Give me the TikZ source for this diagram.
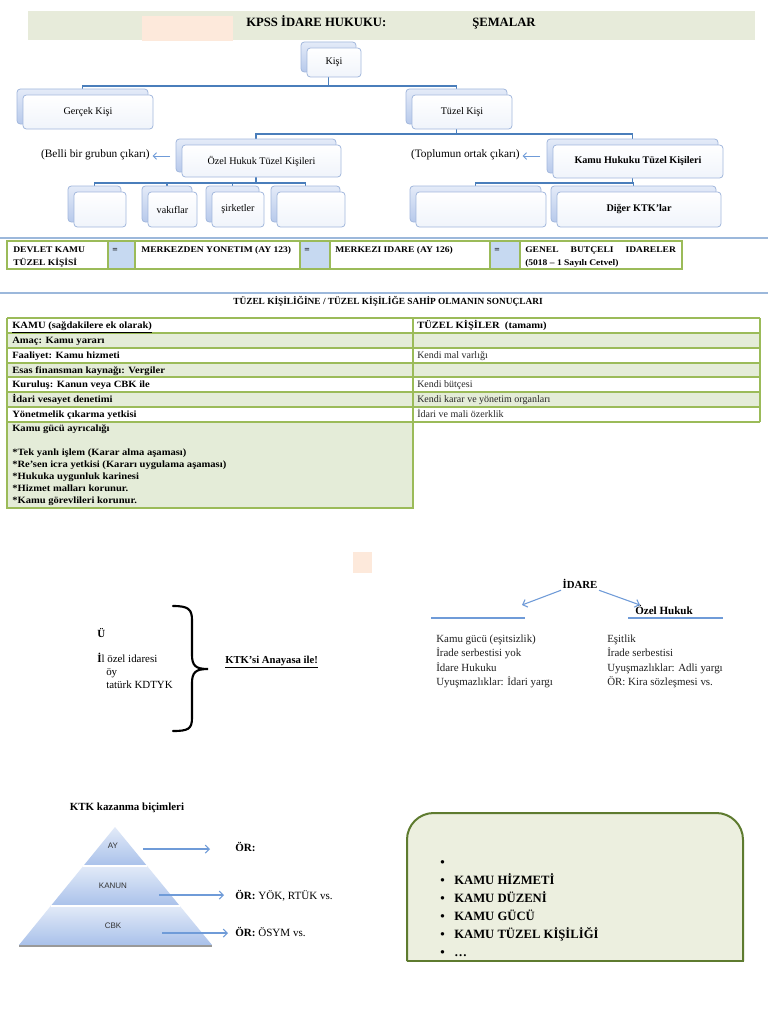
\documentclass[tikz,border=0pt]{standalone}
\usepackage{fontspec}
\setmainfont{Liberation Serif}
\newfontfamily\tabfont[FakeStretch=1.1]{Liberation Serif}
\newfontfamily\pyrfont{Liberation Sans}
\usetikzlibrary{fit,arrows.meta,backgrounds}
\newcommand\myfs[2]{\fontsize{#1}{#2}\selectfont}
\definecolor{hdrgreen}{HTML}{E7EBDA}
\definecolor{peach}{HTML}{FDE9DB}
\definecolor{connblue}{HTML}{4A7EBB}
\definecolor{boxedge}{HTML}{A3B8DD}
\definecolor{backtop}{HTML}{E4EBF8}
\definecolor{backbot}{HTML}{B7C9EB}
\definecolor{frontbot}{HTML}{F0F4FB}
\definecolor{rulebl}{HTML}{9CB8DB}
\definecolor{tline}{HTML}{9BBB59}
\definecolor{tfill}{HTML}{E4ECD8}
\definecolor{eqblue}{HTML}{C6D9F1}
\definecolor{arrbl}{HTML}{6F9BD8}
\definecolor{gboxfill}{HTML}{ECEFDF}
\definecolor{gboxedge}{HTML}{5E7B2F}
\definecolor{pyrtop}{HTML}{E2EAF8}
\definecolor{pyrbot}{HTML}{A9C1EA}
\newcommand\stackbox[7]{%
  \node[backbox, fit={(#2-6,#3-6)(#4-5,#5-5)}] (#1B) {};
  \node[frontbox, fit={(#2,#3)(#4,#5)}] (#1) {};
  \node[treetxt,#7] (#1T) at (#1.center) {#6};}
\begin{document}
\begin{tikzpicture}[x=0.75pt,y=-0.75pt,
  backbox/.style={draw=boxedge, line width=0.6pt, rounded corners=2.5pt, top color=backtop, bottom color=backbot, inner sep=0pt},
  frontbox/.style={draw=boxedge, line width=0.6pt, rounded corners=2.5pt, top color=white, bottom color=frontbot, inner sep=0pt},
  treetxt/.style={font=\myfs{7.6}{9}, inner sep=0pt},
  treebold/.style={font=\bfseries\myfs{7.6}{9}},
  conn/.style={draw=connblue, line width=1.1pt},
  larrow/.style={draw=arrbl, line width=0.7pt, -{Straight Barb[length=2.5pt,width=5pt]}},
  sidetxt/.style={font=\myfs{8.5}{10}, inner sep=0pt},
  hdr/.style={font=\bfseries\myfs{9.5}{11}, inner sep=0pt, anchor=base west},
  rule/.style={draw=rulebl, line width=1.1pt},
  tl/.style={draw=tline, line width=0.8pt},
  rowtxt/.style={font=\tabfont\bfseries\myfs{6.5}{9.75}, inner sep=0pt, anchor=base west, align=left},
  ltxt/.style={font=\tabfont\bfseries\myfs{7.2}{9}, inner sep=0pt, anchor=base west},
  rtxt/.style={font=\myfs{7.5}{9}, inner sep=0pt, anchor=base west, text=black!85},
  btxt/.style={font=\myfs{8.2}{10}, inner sep=0pt, anchor=base west},
  listtxt/.style={font=\myfs{8.2}{10.75}, inner sep=0pt, anchor=base west, align=left, text=black!88},
  brace/.style={draw=black, line width=1.6pt, line cap=round},
  barrow/.style={draw=arrbl, line width=0.8pt, -{Straight Barb[length=3pt,width=6pt]}},
  bline/.style={draw=arrbl, line width=0.8pt},
  pyrlab/.style={font=\pyrfont\myfs{6}{7}, inner sep=0pt, text=black!80},
  ortxt/.style={font=\myfs{8.3}{10}, inner sep=0pt, anchor=base west},
  gtxt/.style={font=\bfseries\myfs{9.5}{13.5}, inner sep=0pt, anchor=base west, align=left}]
\useasboundingbox (0,0) rectangle (768,1024);
% header
\fill[hdrgreen] (28,11) rectangle (755,40);
\fill[peach] (142,16) rectangle (233,41);
\node[hdr] (title1) at (246,27) {KPSS İDARE HUKUKU:};
\node[hdr] (title2) at (472,27) {ŞEMALAR};
% tree
\stackbox{kisi}{307}{48}{361}{77}{Kişi}{}
\stackbox{gercek}{23}{95}{153}{129}{Gerçek Kişi}{}
\stackbox{tuzel}{412}{95}{512}{129}{Tüzel Kişi}{}
\stackbox{ozel}{182}{145}{341}{177}{Özel Hukuk Tüzel Kişileri}{}
\stackbox{kamu}{553}{145}{723}{178}{Kamu Hukuku Tüzel Kişileri}{treebold}
\stackbox{ca}{74}{192}{126}{227}{}{}
\stackbox{cb}{148}{192}{197}{227}{vakıflar}{}
\stackbox{cc}{212}{192}{264}{227}{şirketler}{}
\stackbox{cd}{277}{192}{345}{227}{}{}
\stackbox{ce}{416}{192}{546}{227}{}{}
\stackbox{cf}{557}{192}{721}{227}{Diğer KTK'lar}{treebold}
\begin{scope}[on background layer]
\fill[white] (0,0) rectangle (768,1024);
\coordinate (lv1) at (0,86);
\coordinate (lv2) at (0,134);
\coordinate (lv3) at (0,183);
\draw[conn] (kisiB.center) -- (kisiB.center |- lv1) -| (gercekB.center);
\draw[conn] (kisiB.center |- lv1) -| (tuzelB.center);
\draw[conn] (tuzelB.center) -- (tuzelB.center |- lv2) -| (ozelB.center);
\draw[conn] (tuzelB.center |- lv2) -| (kamuB.center);
\draw[conn] (ozelB.center) -- (ozelB.center |- lv3) -| (caB.center);
\draw[conn] (ozelB.center |- lv3) -| (cbB.center);
\draw[conn] (ozelB.center |- lv3) -| (ccB.center);
\draw[conn] (ozelB.center |- lv3) -| (cdB.center);
\draw[conn] (kamuB.center) -- (kamuB.center |- lv3) -| (ceB.center);
\draw[conn] (kamuB.center |- lv3) -| (cfB.center);
\end{scope}
% side labels
\node[sidetxt, anchor=east] (belli) at (150,155) {(Belli bir grubun çıkarı)};
\coordinate (belliA) at (170,156);
\draw[larrow] (belliA) -- ([xshift=2pt]belli.east |- belliA);
\node[sidetxt, anchor=east] (toplum) at (520,155) {(Toplumun ortak çıkarı)};
\coordinate (toplumA) at (540,156);
\draw[larrow] (toplumA) -- ([xshift=2pt]toplum.east |- toplumA);
% rules
\draw[rule] (0,238) -- (768,238);
\draw[rule] (0,293) -- (768,293);
% row table
\fill[eqblue] (108,241) rectangle (135,269);
\fill[eqblue] (300,241) rectangle (330,269);
\fill[eqblue] (490,241) rectangle (520,269);
\draw[tl, line width=1.2pt] (7,241) rectangle (682,269);
\foreach \xx in {108,135,300,330,490,520} \draw[tl] (\xx,241) -- (\xx,269);
\node[rowtxt] (dk) at (13,265) {DEVLET KAMU\\TÜZEL KİŞİSİ};
\node[rowtxt] (eq1) at (112,252) {=};
\node[rowtxt] (my) at (141,252) {MERKEZDEN YONETIM (AY 123)};
\node[rowtxt] (eq2) at (304,252) {=};
\node[rowtxt] (mi) at (335,252) {MERKEZI IDARE (AY 126)};
\node[rowtxt] (eq3) at (494,252) {=};
\node[rowtxt] (gb) at (525,265) {\makebox[113pt][s]{GENEL\hfill BUTÇELI\hfill IDARELER}\\(5018 – 1 Sayılı Cetvel)};
% title
\node[font=\bfseries\myfs{7}{8}, inner sep=0pt] (sonuc) at (388,301) {TÜZEL KİŞİLİĞİNE / TÜZEL KİŞİLİĞE SAHİP OLMANIN SONUÇLARI};
% big table
\fill[tfill] (7,333) rectangle (760,348);
\fill[tfill] (7,363) rectangle (760,377);
\fill[tfill] (7,392) rectangle (760,407);
\fill[tfill] (7,422) rectangle (413,508);
\foreach \yy in {318,333,348,363,377,392,407,422} \draw[tl] (7,\yy) -- (760,\yy);
\draw[tl] (7,318) -- (7,508) -- (413,508) -- (413,318);
\draw[tl] (760,318) -- (760,422);
\node[ltxt] (l1) at (12,328.5) {\underline{KAMU (sağdakilere ek olarak)}};
\node[ltxt] (l2) at (12,343.5) {Amaç: Kamu yararı};
\node[ltxt] (l3) at (12,358.5) {Faaliyet: Kamu hizmeti};
\node[ltxt] (l4) at (12,373) {Esas finansman kaynağı: Vergiler};
\node[ltxt] (l5) at (12,387.5) {Kuruluş: Kanun veya CBK ile};
\node[ltxt] (l6) at (12,402.5) {İdari vesayet denetimi};
\node[ltxt] (l7) at (12,417.5) {Yönetmelik çıkarma yetkisi};
\node[ltxt, align=left] (l8) at (12,503) {Kamu gücü ayrıcalığı\\[9pt]{*}Tek yanlı işlem (Karar alma aşaması)\\{*}Re’sen icra yetkisi (Kararı uygulama aşaması)\\{*}Hukuka uygunluk karinesi\\{*}Hizmet malları korunur.\\{*}Kamu görevlileri korunur.};
\node[ltxt] (r1) at (417,328.5) {TÜZEL KİŞİLER\ \ (tamamı)};
\node[rtxt] (r3) at (417,358.5) {Kendi mal varlığı};
\node[rtxt] (r5) at (417,387.5) {Kendi bütçesi};
\node[rtxt] (r6) at (417,402.5) {Kendi karar ve yönetim organları};
\node[rtxt] (r7) at (417,417.5) {İdari ve mali özerklik};
% middle left
\fill[peach] (353,552) rectangle (372,573);
\draw[brace] (173,606) .. controls (188,606) and (192,609) .. (192,620) -- (192,655) .. controls (192,666) and (196,669) .. (208,669) .. controls (196,669) and (192,672) .. (192,683) -- (192,718) .. controls (192,729) and (188,731) .. (173,731);
\node[btxt] (u1) at (97,637) {\textbf{Ü}};
\node[btxt] (u2) at (97,662.5) {\textbf{İ}l özel idaresi};
\node[btxt] (u3) at (106,675) {öy};
\node[btxt] (u4) at (106,688) {tatürk KDTYK};
\node[btxt, font=\bfseries\myfs{8}{10}] (anay) at (225,663) {\underline{KTK’si Anayasa ile!}};
% middle right
\node[font=\bfseries\myfs{8.1}{10}, inner sep=0pt] (idare) at (580,584) {İDARE};
\node[btxt, font=\bfseries\myfs{8.3}{10}] (ozelh) at (635,614) {Özel Hukuk};
\coordinate (la) at (522,605);
\coordinate (ra) at (640,605);
\draw[barrow] ([xshift=-1pt,yshift=-1pt]idare.south west) -- (la);
\draw[barrow] ([xshift=1pt,yshift=-1pt]idare.south east) -- (ra);
\draw[bline] (431,618) -- (525,618);
\draw[bline] (628,618) -- (723,618);
\node[listtxt] (llist) at (436,685.5) {Kamu gücü (eşitsizlik)\\İrade serbestisi yok\\İdare Hukuku\\Uyuşmazlıklar: İdari yargı};
\node[listtxt] (rlist) at (607,685.5) {Eşitlik\\İrade serbestisi\\Uyuşmazlıklar: Adli yargı\\ÖR: Kira sözleşmesi vs.};
% pyramid
\node[font=\bfseries\myfs{8.2}{10}, inner sep=0pt] (ktkk) at (127,808) {KTK kazanma biçimleri};
\shade[top color=pyrtop, bottom color=pyrbot] (115,827) -- (147.1,866) -- (83.3,866) -- cycle;
\shade[top color=pyrtop, bottom color=pyrbot] (83.3,866) -- (147.1,866) -- (179.9,906) -- (50.7,906) -- cycle;
\shade[top color=pyrtop, bottom color=pyrbot] (50.7,906) -- (179.9,906) -- (212,945) -- (19,945) -- cycle;
\draw[white, line width=0.8pt] (83.3,866) -- (147.1,866);
\draw[white, line width=0.8pt] (50.7,906) -- (179.9,906);
\draw[black!40, line width=1pt] (19,946) -- (212,946);
\node[pyrlab] (pay) at (113,846) {AY};
\node[pyrlab] (pkanun) at (113,886) {KANUN};
\node[pyrlab] (pcbk) at (113,926) {CBK};
\node[ortxt] (or1) at (235,851) {\textbf{ÖR:}};
\node[ortxt] (or2) at (235,899) {\textbf{ÖR:} YÖK, RTÜK vs.};
\node[ortxt] (or3) at (235,936) {\textbf{ÖR:} ÖSYM vs.};
\coordinate (a1s) at (143,849); \coordinate (a1e) at (210,849);
\coordinate (a2s) at (159,895); \coordinate (a2e) at (224,895);
\coordinate (a3s) at (162,933); \coordinate (a3e) at (228,933);
\draw[barrow] (a1s) -- (a1e);
\draw[barrow] (a2s) -- (a2e);
\draw[barrow] (a3s) -- (a3e);
% green box
\fill[gboxfill, rounded corners=20pt] (407,961) -- (407,813) -- (743,813) -- (743,961);
\draw[gboxedge, line width=1.5pt, rounded corners=20pt] (407,961) -- (407,813) -- (743,813) -- (743,961);
\draw[gboxedge, line width=1.5pt] (406.5,961) -- (743.5,961);
\node[gtxt] (glist) at (440,956) {\makebox[10.5pt][l]{\textbullet}\\\makebox[10.5pt][l]{\textbullet}KAMU HİZMETİ\\\makebox[10.5pt][l]{\textbullet}KAMU DÜZENİ\\\makebox[10.5pt][l]{\textbullet}KAMU GÜCÜ\\\makebox[10.5pt][l]{\textbullet}KAMU TÜZEL KİŞİLİĞİ\\\makebox[10.5pt][l]{\textbullet}…};
\end{tikzpicture}
\end{document}
